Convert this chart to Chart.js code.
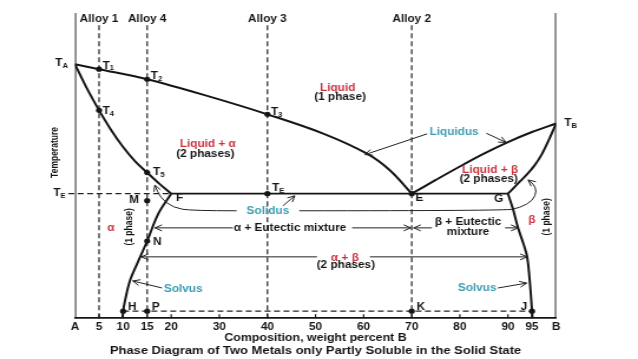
<!DOCTYPE html>
<html>
<head>
<meta charset="utf-8">
<script src="https://cdn.jsdelivr.net/npm/chart.js@4.4.1/dist/chart.umd.min.js"></script>
<style>
    html, body { margin: 0; padding: 0; background: #fff; overflow: hidden; }
    /* the original picture is stretched sideways, so the canvas is too */
    #phaseChart { transform: scaleX(1.1793); transform-origin: 0 0; display: block; }
</style>
</head>
<body>
<canvas id="phaseChart" width="541" height="359"></canvas>
<script>
// composition in wt% B on x, temperature on a relative 0-100 scale (no units on the original)
const xTickValues = [0, 5, 10, 15, 20, 30, 40, 50, 60, 70, 80, 90, 95, 100];
const xTickLabels = ['A', '5', '10', '15', '20', '30', '40', '50', '60', '70', '80', '90', '95', 'B'];

const alloyNames = ['Alloy 1', 'Alloy 4', 'Alloy 3', 'Alloy 2'];
const alloyComp = [5, 15, 40, 70];

const tA = 83.2;   // melting point of A
const tB = 63.8;   // melting point of B
const tE = 40.8;   // eutectic temperature
const tLow = 2.3;  // line H-P-K-J

// phase boundaries
const liquidusAE = [{x: 0, y: tA}, {x: 5, y: 81.6}, {x: 15, y: 78.3}, {x: 28, y: 72.6}, {x: 40, y: 66.8},
    {x: 51.6, y: 60.5}, {x: 60.7, y: 53.9}, {x: 65.5, y: 48.4}, {x: 70, y: tE}];
const liquidusEB = [{x: 70, y: tE}, {x: 75, y: 45.3}, {x: 80, y: 49.7}, {x: 85, y: 53.9}, {x: 90, y: 57.7},
    {x: 95, y: 61.0}, {x: 100, y: tB}];
const solidusAF = [{x: 0, y: tA}, {x: 2.5, y: 75.2}, {x: 5, y: 68.1}, {x: 7.5, y: 61.7}, {x: 10, y: 56.1},
    {x: 12.5, y: 51.4}, {x: 15, y: 47.7}, {x: 17.5, y: 44.1}, {x: 20, y: tE}];
const solidusBG = [{x: 100, y: tB}, {x: 98.5, y: 58.4}, {x: 97, y: 53.6}, {x: 95.5, y: 50.0}, {x: 94, y: 47.2},
    {x: 92.5, y: 44.8}, {x: 91.2, y: 42.7}, {x: 90, y: tE}];
const solvusF = [{x: 20, y: tE}, {x: 17.3, y: 34.2}, {x: 15, y: 25.3}, {x: 12.9, y: 17.8}, {x: 11.4, y: 12.2},
    {x: 10.5, y: 6.5}, {x: 10, y: tLow}, {x: 9.9, y: 0}];
const solvusG = [{x: 90, y: tE}, {x: 91, y: 36}, {x: 92.1, y: 29.6}, {x: 93.3, y: 24}, {x: 94, y: 20},
    {x: 94.6, y: 11}, {x: 95, y: tLow}, {x: 95.1, y: 0}];
const eutecticFG = [{x: 20, y: tE}, {x: 90, y: tE}];

// marked points
const keyNames = ['T1', 'T2', 'T3', 'T4', 'T5', 'TE', 'E', 'M', 'N', 'H', 'P', 'K', 'J'];
const keyX = [5, 15, 40, 5, 15, 40, 70, 15, 15, 10, 15, 70, 95];
const keyY = [81.6, 78.3, 66.8, 68.1, 47.7, tE, tE, 38.5, 25.3, tLow, tLow, tLow, tLow];

const FONT = '"Liberation Sans", Arial, sans-serif';
const RED = '#c9323e';
const TEAL = '#3c9db2';
const INK = '#151515';

Chart.defaults.font.family = FONT;
Chart.defaults.color = INK;

// labels next to points: [letter, subscript, x, y, dx, dy, align]
const pointLabels = [
    ['T', 'A', 0, tA, -6, -1, 'right'],
    ['T', 'E', 0, tE, -8, 0, 'right'],
    ['T', 'B', 100, tB, 7, 0, 'left'],
    ['T', '1', 5, 81.6, 3, -3, 'left'],
    ['T', '2', 15, 78.3, 3, -3, 'left'],
    ['T', '3', 40, 66.8, 3, -2, 'left'],
    ['T', '4', 5, 68.1, 3, 1, 'left'],
    ['T', '5', 15, 47.7, 5, 0, 'left'],
    ['T', 'E', 40, tE, 4, -5, 'left'],
    ['E', '', 70, tE, 3, 5, 'left'],
    ['F', '', 20, tE, 4, 5, 'left'],
    ['G', '', 90, tE, -4, 6, 'right'],
    ['M', '', 15, 38.5, -7, 0, 'right'],
    ['N', '', 15, 25.3, 5, 1, 'left'],
    ['H', '', 10, tLow, 4, -4, 'left'],
    ['P', '', 15, tLow, 4, -4, 'left'],
    ['K', '', 70, tLow, 4, -4, 'left'],
    ['J', '', 95, tLow, -4, -4, 'right']
];

// region / curve names: [text, x, y, colour, rotated]
const areaTexts = [
    ['Liquid', 54.6, 75.3, RED],
    ['(1 phase)', 55.1, 72.3, INK],
    ['Liquid + α', 27.6, 56.9, RED],
    ['(2 phases)', 27.1, 53.6, INK],
    ['Liquid + β', 86.3, 48.5, RED],
    ['(2 phases)', 86.0, 45.4, INK],
    ['Liquidus', 78.8, 60.8, TEAL],
    ['Solidus', 40.1, 34.9, TEAL],
    ['α + Eutectic mixture', 44.7, 29.6, INK],
    ['β + Eutectic', 81.7, 31.3, INK],
    ['mixture', 81.7, 28.0, INK],
    ['α + β', 56.1, 19.8, RED],
    ['(2 phases)', 56.3, 17.3, INK],
    ['α', 7.5, 29.6, RED],
    ['β', 95, 32.2, RED],
    ['Solvus', 22.5, 9.6, TEAL],
    ['Solvus', 83.6, 9.9, TEAL],
    ['(1 phase)', 11.4, 29.9, INK, true],
    ['(1 phase)', 98.1, 33.2, INK, true],
    ['Temperature', -4.2, 54.3, INK, true]
];

// leader lines, the last point is the arrow tip
const arrows = [
    [[73.2, 60.4], [60.3, 53.6]],
    [[85.5, 60.6], [89.6, 57.6]],
    [[33.6, 35.2], [24.3, 35.2], [20.4, 36.2], [17.7, 39.5], [16.6, 43.6]],
    [[46.6, 35.2], [89.4, 35.2], [92.5, 36.2], [95.2, 38.5], [96, 41.8], [95.2, 44.1], [94.2, 45.3]],
    [[43.2, 36.8], [45.7, 40.1]],
    [[32.8, 29.6], [16.6, 29.6]],
    [[57.6, 29.6], [69.8, 29.6]],
    [[74.2, 29.6], [70.4, 29.6]],
    [[89.4, 29.6], [92.1, 29.6]],
    [[50.3, 20.1], [13.8, 20.1]],
    [[61.3, 20.1], [94.0, 20.1]],
    [[18.1, 9.9], [12.0, 12.2]],
    [[87.9, 9.9], [93.9, 11.5]]
];

function curve(data, width) {
    return {
        data: data, showLine: true, borderColor: INK, borderWidth: width || 2,
        pointRadius: 0, tension: 0.35, fill: false
    };
}

function dashed(data) {
    return {
        data: data, showLine: true, borderColor: '#222', borderWidth: 1.2, borderDash: [5, 3],
        pointRadius: 0, tension: 0, fill: false, clip: false
    };
}

const datasets = [];
// dots first so they stay on top
datasets.push({
    data: keyX.map((x, i) => ({x: x, y: keyY[i]})),
    pointRadius: 2.6, pointBackgroundColor: INK, pointBorderWidth: 0, showLine: false
});
datasets.push(curve(liquidusAE));
datasets.push(curve(liquidusEB));
datasets.push(curve(solidusAF));
datasets.push(curve(solidusBG));
datasets.push(curve(solvusF));
datasets.push(curve(solvusG));
datasets.push(curve(eutecticFG, 1.8));
datasets.push(curve([{x: 0, y: 0}, {x: 0, y: 100}], 1.8));
datasets.push(curve([{x: 100, y: 0}, {x: 100, y: 100}], 1.8));
alloyComp.forEach(c => datasets.push(dashed([{x: c, y: 0}, {x: c, y: 96}])));
datasets.push(dashed([{x: -1.4, y: tE}, {x: 20, y: tE}]));
datasets.push(dashed([{x: 10, y: tLow}, {x: 95, y: tLow}]));

function drawArrow(c, pts) {
    c.beginPath();
    c.moveTo(pts[0][0], pts[0][1]);
    for (let i = 1; i < pts.length - 1; i++) {
        const mx = (pts[i][0] + pts[i + 1][0]) / 2;
        const my = (pts[i][1] + pts[i + 1][1]) / 2;
        c.quadraticCurveTo(pts[i][0], pts[i][1], mx, my);
    }
    const tip = pts[pts.length - 1];
    const prev = pts[pts.length - 2];
    c.lineTo(tip[0], tip[1]);
    c.stroke();
    const a = Math.atan2(tip[1] - prev[1], tip[0] - prev[0]);
    const L = 6, W = 3;
    c.beginPath();
    c.moveTo(tip[0] - L * Math.cos(a) + W * Math.sin(a), tip[1] - L * Math.sin(a) - W * Math.cos(a));
    c.lineTo(tip[0], tip[1]);
    c.lineTo(tip[0] - L * Math.cos(a) - W * Math.sin(a), tip[1] - L * Math.sin(a) + W * Math.cos(a));
    c.stroke();
}

const annotate = {
    id: 'annotate',
    afterDatasetsDraw(chart) {
        const c = chart.ctx;
        const xs = chart.scales.x, ys = chart.scales.y;
        const bottom = chart.chartArea.bottom;
        c.save();

        // inward tick marks
        c.strokeStyle = INK;
        c.lineWidth = 1.2;
        xTickValues.slice(1, -1).forEach(v => {
            const p = xs.getPixelForValue(v);
            c.beginPath();
            c.moveTo(p, bottom);
            c.lineTo(p, bottom - 4);
            c.stroke();
        });

        // leaders
        c.lineWidth = 1;
        c.strokeStyle = '#222';
        arrows.forEach(a => drawArrow(c, a.map(p => [xs.getPixelForValue(p[0]), ys.getPixelForValue(p[1])])));

        c.textBaseline = 'middle';

        // alloy names
        c.font = 'bold 10px ' + FONT;
        c.fillStyle = INK;
        c.textAlign = 'center';
        alloyNames.forEach((n, i) => c.fillText(n, xs.getPixelForValue(alloyComp[i]), ys.getPixelForValue(98)));

        // region names
        areaTexts.forEach(t => {
            const x = xs.getPixelForValue(t[1]), y = ys.getPixelForValue(t[2]);
            c.fillStyle = t[3];
            c.textAlign = 'center';
            if (t[4]) {
                c.font = 'bold 8.5px ' + FONT;
                c.save();
                c.translate(x, y);
                c.rotate(-Math.PI / 2);
                c.fillText(t[0], 0, 0);
                c.restore();
            } else {
                c.font = 'bold 10px ' + FONT;
                c.fillText(t[0], x, y);
            }
        });

        // point names with subscripts
        c.fillStyle = INK;
        pointLabels.forEach(l => {
            const x = xs.getPixelForValue(l[2]) + l[4];
            const y = ys.getPixelForValue(l[3]) + l[5];
            c.font = 'bold 10px ' + FONT;
            const w1 = c.measureText(l[0]).width;
            c.font = 'bold 6.5px ' + FONT;
            const w2 = l[1] ? c.measureText(l[1]).width : 0;
            const left = l[6] === 'right' ? x - w1 - w2 : x;
            c.textAlign = 'left';
            c.font = 'bold 10px ' + FONT;
            c.fillText(l[0], left, y);
            if (l[1]) {
                c.font = 'bold 6.5px ' + FONT;
                c.fillText(l[1], left + w1, y + 2.5);
            }
        });
        c.restore();
    }
};

const phaseChart = new Chart(document.getElementById('phaseChart'), {
    type: 'scatter',
    data: {datasets: datasets},
    options: {
        responsive: false,
        devicePixelRatio: 1,
        animation: false,
        layout: {padding: {left: 63.6, right: 69.5, top: 13, bottom: 0}},
        plugins: {
            legend: {display: false},
            tooltip: {enabled: false},
            title: {
                display: true,
                position: 'bottom',
                text: 'Phase Diagram of Two Metals only Partly Soluble in the Solid State',
                font: {size: 11, weight: 'bold'},
                color: INK,
                padding: {top: 0, bottom: 1}
            }
        },
        scales: {
            x: {
                type: 'linear',
                min: 0,
                max: 100,
                afterBuildTicks: axis => { axis.ticks = xTickValues.map(v => ({value: v})); },
                ticks: {
                    autoSkip: false,
                    maxRotation: 0,
                    padding: 3,
                    color: INK,
                    font: {size: 10, weight: 'bold'},
                    callback: v => xTickLabels[xTickValues.indexOf(v)]
                },
                grid: {display: false, drawTicks: false},
                border: {display: true, color: INK, width: 1.8},
                title: {
                    display: true,
                    text: 'Composition, weight percent B',
                    font: {size: 10.5, weight: 'bold'},
                    color: INK,
                    padding: {top: -4, bottom: 0}
                }
            },
            y: {
                type: 'linear',
                min: 0,
                max: 100,
                display: false
            }
        }
    },
    plugins: [annotate]
});
</script>
</body>
</html>
